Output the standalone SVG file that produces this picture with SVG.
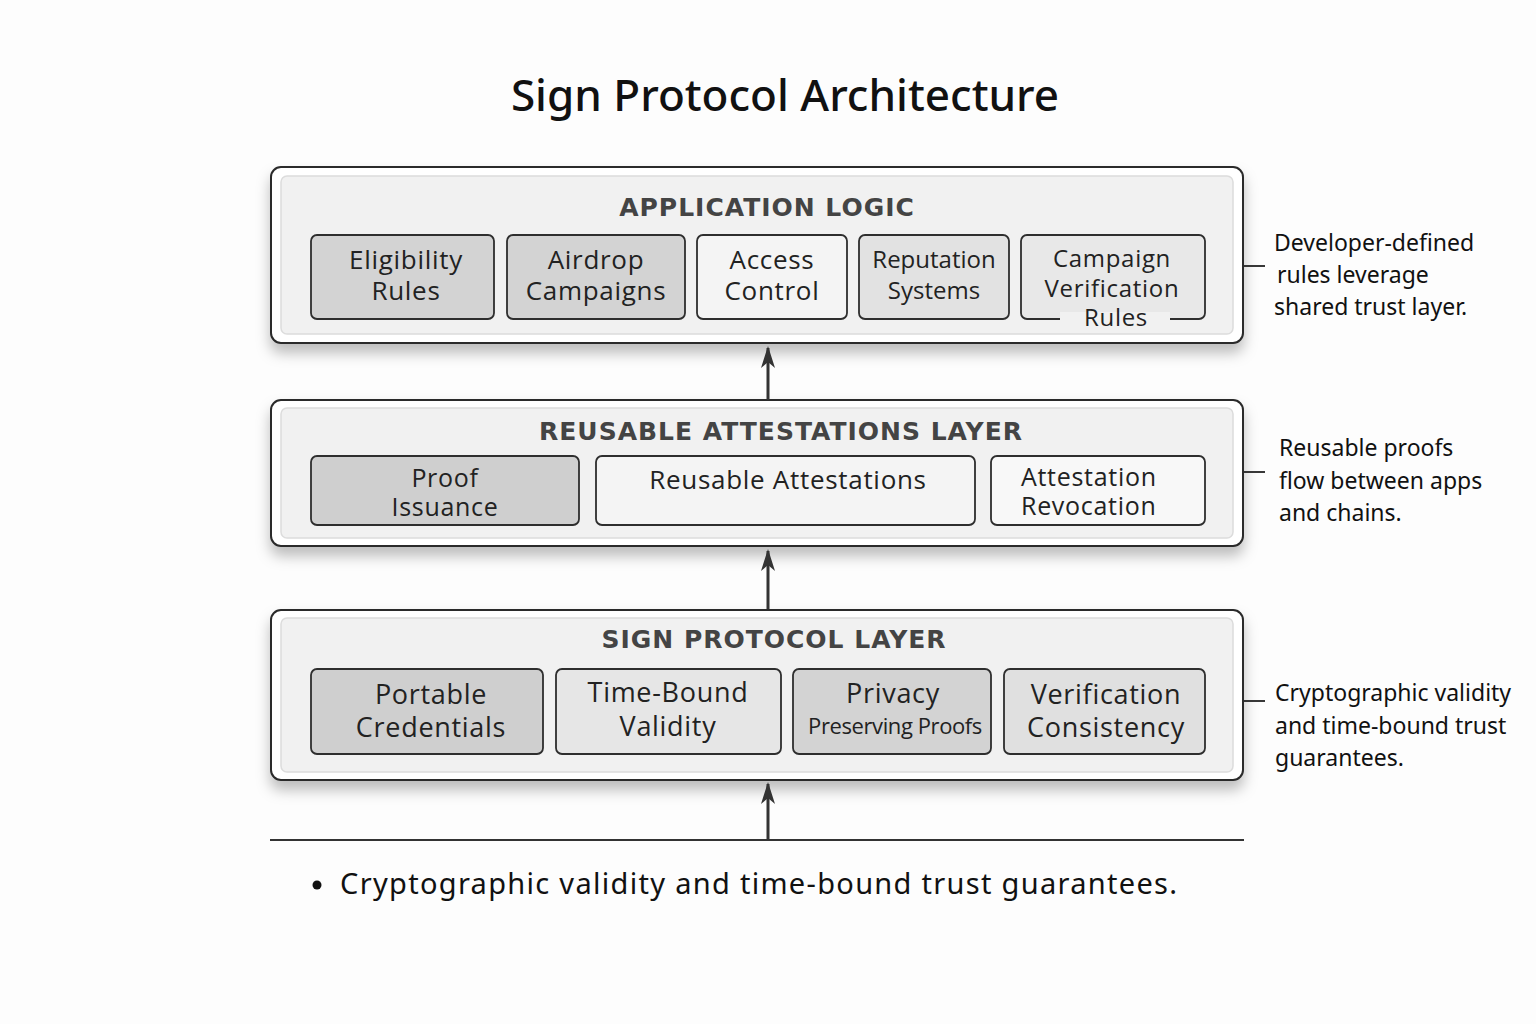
<svg xmlns="http://www.w3.org/2000/svg" width="1536" height="1024" viewBox="0 0 1536 1024">
<defs>
<filter id="sh" x="-5%" y="-10%" width="110%" height="140%">
<feDropShadow dx="0" dy="9" stdDeviation="7" flood-color="#000" flood-opacity="0.26"/>
</filter>
<marker id="ah" viewBox="0 0 22 16" refX="20" refY="8" markerWidth="22" markerHeight="16" orient="auto" markerUnits="userSpaceOnUse">
<path d="M0,1 L22,8 L0,15 L6,8 Z" fill="#333"/>
</marker>
</defs>
<style>
.outer{fill:#ffffff;stroke:#2a2a2a;stroke-width:2}
.inner{fill:#f1f1f1;stroke:#dcdcdc;stroke-width:1.5}
.box{stroke:#2e2e2e;stroke-width:1.8}
.lt{font-family:"DejaVu Sans","Open Sans",sans-serif;font-weight:bold;font-size:25px;fill:#444;text-anchor:middle;letter-spacing:1px}
.bt{font-family:"Open Sans","Noto Sans",sans-serif;font-size:26px;fill:#222;text-anchor:middle;letter-spacing:0.7px}
.nt{font-family:"Noto Sans","Open Sans",sans-serif;font-size:23px;fill:#111}
.conn{stroke:#333;stroke-width:3;fill:none}
.tick{stroke:#222;stroke-width:1.8}
</style>
<rect width="1536" height="1024" fill="#fdfdfd"/>
<text x="785" y="111" font-family="Noto Sans,Open Sans,sans-serif" font-size="44" font-weight="500" fill="#111" text-anchor="middle">Sign Protocol Architecture</text>

<g id="layer-application">
<rect class="outer" x="271" y="167" width="972" height="176" rx="10" filter="url(#sh)"/>
<rect class="inner" x="281" y="176" width="952" height="158" rx="6"/>
<text class="lt" x="767" y="216">APPLICATION LOGIC</text>
</g>
<g id="node-eligibility">
<rect class="box" x="311" y="235" width="183" height="84" rx="6" fill="#d3d3d3"/>
<text class="bt" x="406" y="269">Eligibility</text>
<text class="bt" x="406" y="300">Rules</text>
</g>
<g id="node-airdrop">
<rect class="box" x="507" y="235" width="178" height="84" rx="6" fill="#d3d3d3"/>
<text class="bt" x="596" y="269">Airdrop</text>
<text class="bt" x="596" y="300">Campaigns</text>
</g>
<g id="node-access">
<rect class="box" x="697" y="235" width="150" height="84" rx="6" fill="#f4f4f4"/>
<text class="bt" x="772" y="269">Access</text>
<text class="bt" x="772" y="300">Control</text>
</g>
<g id="node-reputation">
<rect class="box" x="859" y="235" width="150" height="84" rx="6" fill="#e2e2e2"/>
<text class="bt" x="934" y="268" style="font-size:24px;letter-spacing:0">Reputation</text>
<text class="bt" x="934" y="299" style="font-size:24px;letter-spacing:0">Systems</text>
</g>
<g id="node-campaign">
<rect class="box" x="1021" y="235" width="184" height="84" rx="6" fill="#e8e8e8"/>
<rect x="1060" y="312" width="110" height="14" fill="#f1f1f1"/>
<text class="bt" x="1112" y="267" style="font-size:24px">Campaign</text>
<text class="bt" x="1112" y="297" style="font-size:24px">Verification</text>
<text class="bt" x="1116" y="326" style="font-size:24px">Rules</text>
</g>

<g id="layer-attestations">
<rect class="outer" x="271" y="400" width="972" height="146" rx="10" filter="url(#sh)"/>
<rect class="inner" x="281" y="408" width="952" height="130" rx="6"/>
<text class="lt" x="781" y="440">REUSABLE ATTESTATIONS LAYER</text>
</g>
<g id="node-proof">
<rect class="box" x="311" y="456" width="268" height="69" rx="6" fill="#cfcfcf"/>
<text class="bt" x="445" y="487" style="font-size:25px">Proof</text>
<text class="bt" x="445" y="516" style="font-size:25px">Issuance</text>
</g>
<g id="node-reusable">
<rect class="box" x="596" y="456" width="379" height="69" rx="6" fill="#f4f4f4"/>
<text class="bt" x="788" y="489">Reusable Attestations</text>
</g>
<g id="node-revocation">
<rect class="box" x="991" y="456" width="214" height="69" rx="6" fill="#f8f8f8"/>
<text class="bt" x="1021" y="486" style="text-anchor:start;font-size:25px">Attestation</text>
<text class="bt" x="1021" y="515" style="text-anchor:start;font-size:25px">Revocation</text>
</g>

<g id="layer-sign">
<rect class="outer" x="271" y="610" width="972" height="170" rx="10" filter="url(#sh)"/>
<rect class="inner" x="281" y="618" width="952" height="154" rx="6"/>
<text class="lt" x="774" y="648">SIGN PROTOCOL LAYER</text>
</g>
<g id="node-portable">
<rect class="box" x="311" y="669" width="232" height="85" rx="6" fill="#cfcfcf"/>
<text class="bt" x="431" y="704" style="font-size:27px">Portable</text>
<text class="bt" x="431" y="737" style="font-size:27px">Credentials</text>
</g>
<g id="node-timebound">
<rect class="box" x="556" y="669" width="225" height="85" rx="6" fill="#e6e6e6"/>
<text class="bt" x="668" y="702" style="font-size:27px">Time-Bound</text>
<text class="bt" x="668" y="736" style="font-size:27px">Validity</text>
</g>
<g id="node-privacy">
<rect class="box" x="793" y="669" width="198" height="85" rx="6" fill="#d3d3d3"/>
<text class="bt" x="893" y="703" style="font-size:27px">Privacy</text>
<text class="bt" x="895" y="734" style="font-size:22px;letter-spacing:-0.4px">Preserving Proofs</text>
</g>
<g id="node-consistency">
<rect class="box" x="1004" y="669" width="201" height="85" rx="6" fill="#e0e0e0"/>
<text class="bt" x="1106" y="704" style="font-size:27px">Verification</text>
<text class="bt" x="1106" y="737" style="font-size:27px">Consistency</text>
</g>

<g id="connectors">
<line class="conn" x1="768" y1="400" x2="768" y2="348" marker-end="url(#ah)"/>
<line class="conn" x1="768" y1="609" x2="768" y2="551" marker-end="url(#ah)"/>
<line class="conn" x1="768" y1="840" x2="768" y2="784" marker-end="url(#ah)"/>
<line x1="270" y1="840" x2="1244" y2="840" stroke="#333" stroke-width="2"/>
<line class="tick" x1="1244" y1="266" x2="1265" y2="266"/>
<line class="tick" x1="1244" y1="472" x2="1265" y2="472"/>
<line class="tick" x1="1244" y1="701" x2="1265" y2="701"/>
</g>

<g id="note-application">
<text class="nt" x="1274" y="251">Developer-defined</text>
<text class="nt" x="1277" y="283">rules leverage</text>
<text class="nt" x="1274" y="315">shared trust layer.</text>
</g>
<g id="note-attestations">
<text class="nt" x="1279" y="456">Reusable proofs</text>
<text class="nt" x="1279" y="489">flow between apps</text>
<text class="nt" x="1279" y="521">and chains.</text>
</g>
<g id="note-sign">
<text class="nt" x="1275" y="701">Cryptographic validity</text>
<text class="nt" x="1275" y="734">and time-bound trust</text>
<text class="nt" x="1275" y="766">guarantees.</text>
</g>

<g id="footer">
<circle cx="317" cy="885" r="4.5" fill="#111"/>
<text x="340" y="894" font-family="Noto Sans,Open Sans,sans-serif" font-size="29" fill="#111" letter-spacing="1.3">Cryptographic validity and time-bound trust guarantees.</text>
</g>
</svg>
